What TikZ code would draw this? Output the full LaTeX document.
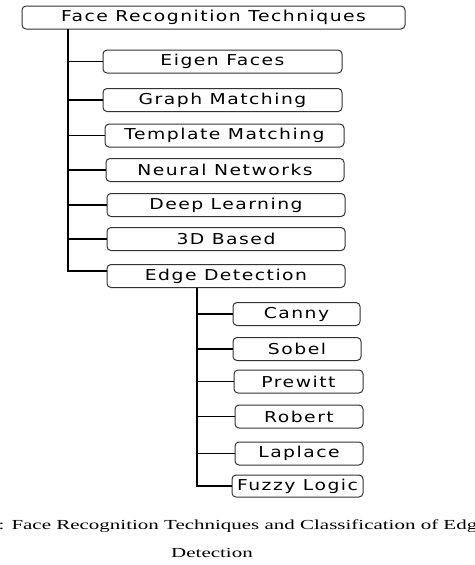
\documentclass[tikz,border=0pt]{standalone}
\usepackage{fontspec}
\usetikzlibrary{calc}
\setmainfont{Liberation Serif}
\newfontfamily\boxfont[LetterSpace=10,FakeStretch=1.25]{DejaVu Sans}
\newfontfamily\capfont[FakeStretch=1.52]{Liberation Serif}
\begin{document}
\begin{tikzpicture}[x=1pt,y=-1pt,
  tbox/.style={draw=black!80, line width=1pt, rounded corners=4pt, inner sep=0pt,
    font=\boxfont\fontsize{15}{17}\selectfont, text=black, minimum height=23pt},
  conn/.style={draw=black, line width=1.2pt},
  captext/.style={inner sep=0pt, font=\capfont\fontsize{13.8}{16}\selectfont}]
\useasboundingbox (0,0) rectangle (474,565);
\clip (0,0) rectangle (474,565);
\node[tbox, minimum width=383pt] (root) at (213.5,17.5) {Face Recognition Techniques};
\node[tbox, minimum width=239pt] (eigen) at (222.5,61.5) {Eigen Faces};
\node[tbox, minimum width=239pt] (graph) at (222.5,100) {Graph Matching};
\node[tbox, minimum width=239pt] (templ) at (224.5,135.5) {Template Matching};
\node[tbox, minimum width=238pt] (neural) at (225,170) {Neural Networks};
\node[tbox, minimum width=238pt] (deep) at (226,205) {Deep Learning};
\node[tbox, minimum width=238pt] (based) at (226,239) {3D Based};
\node[tbox, minimum width=238pt] (edge) at (226,276) {Edge Detection};
\node[tbox, minimum width=127pt] (canny) at (296.5,314) {Canny};
\node[tbox, minimum width=128pt] (sobel) at (297,349) {Sobel};
\node[tbox, minimum width=129pt] (prewitt) at (298.5,381.5) {Prewitt};
\node[tbox, minimum width=128pt] (robert) at (299,416.5) {Robert};
\node[tbox, minimum width=128pt] (laplace) at (299,453.5) {Laplace};
\node[tbox, minimum width=131pt, minimum height=22pt] (fuzzy) at (297.5,486) {Fuzzy Logic};
\coordinate (t0) at (68,29);
\coordinate (edgein) at ($(edge.west)+(0,-5)$);
\draw[conn] (t0) |- (edgein);
\foreach \n in {eigen,graph,templ,neural,deep,based}
  \draw[conn] (t0 |- \n.west) -- (\n.west);
\coordinate (s0) at (197,288);
\draw[conn] (s0) |- (fuzzy.west);
\foreach \n in {canny,sobel,prewitt,robert,laplace}
  \draw[conn] (s0 |- \n.west) -- (\n.west);
\node[captext, anchor=base west] (cap1) at (-12,529)
  {1: Face Recognition Techniques and Classification of Edge};
\node[captext, anchor=base] (cap2) at (212,557) {Detection};
\end{tikzpicture}
\end{document}
